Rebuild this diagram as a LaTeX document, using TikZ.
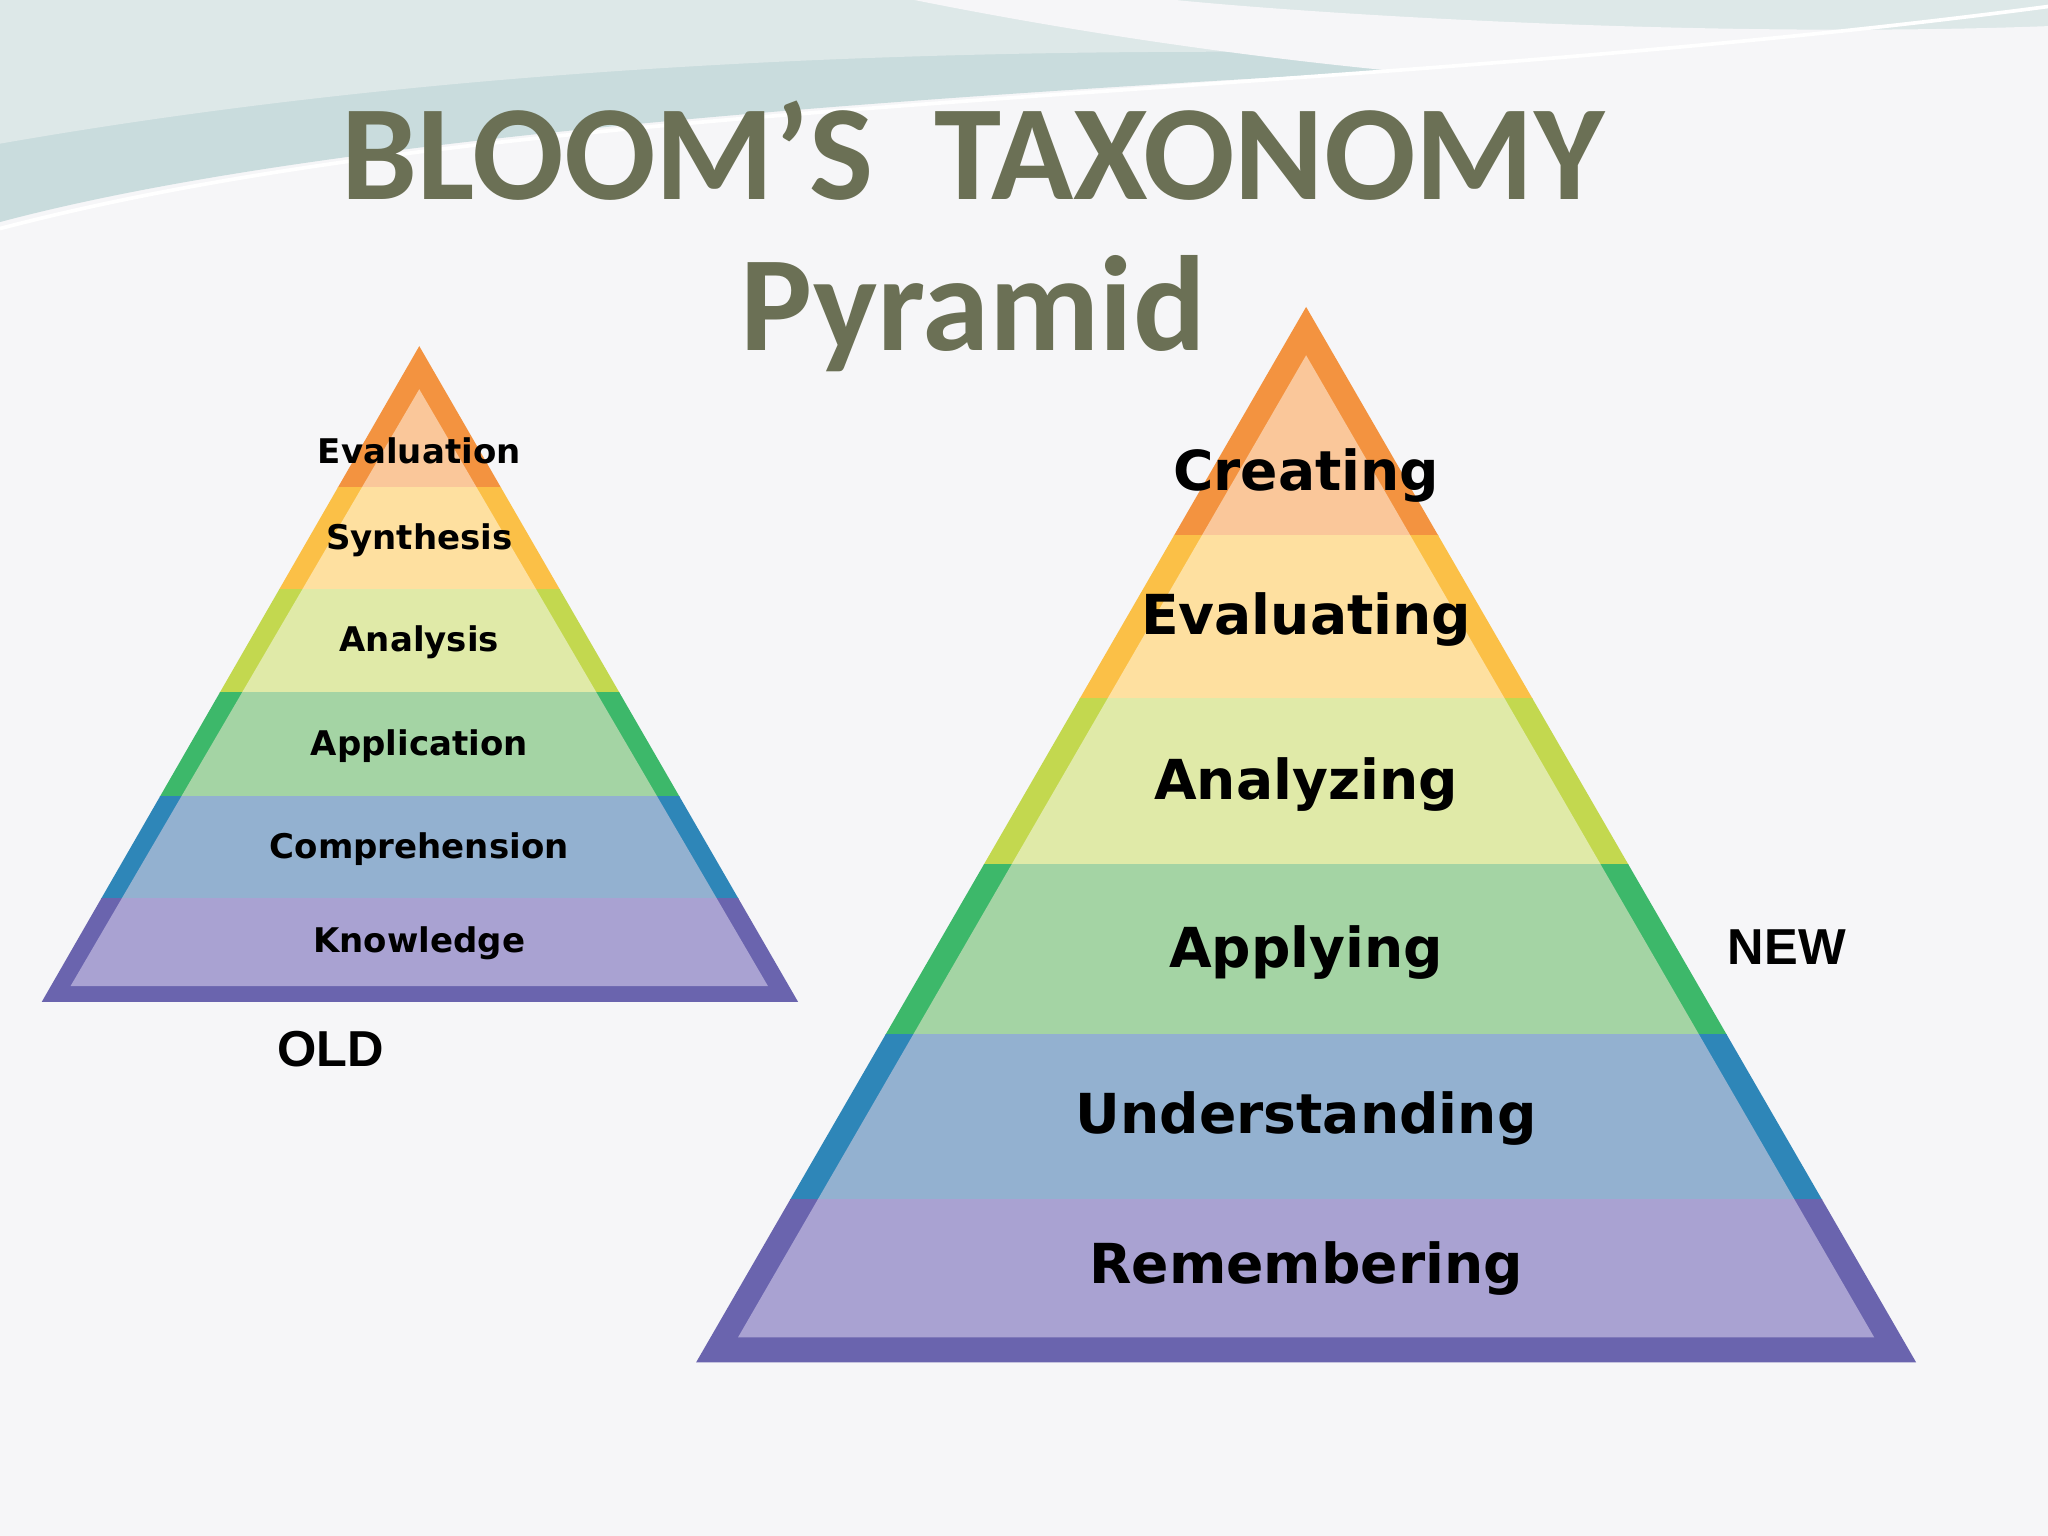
\documentclass[tikz,border=0pt]{standalone}
\usepackage{fontspec}
\setmainfont{Carlito}
\newfontfamily\bandfont{DejaVu Sans}
\newfontfamily\tagfont{Liberation Sans}
\definecolor{titlegray}{HTML}{6B7055}
\definecolor{bgpaper}{HTML}{F6F6F8}
\definecolor{wavea}{HTML}{C9DCDD}
\definecolor{waveb}{HTML}{DDE8E8}
\tikzset{
  title/.style={font=\fontsize{29.5}{34}\selectfont\bfseries, text=titlegray},
  small band/.style={font=\bandfont\bfseries\fontsize{7.4}{8}\selectfont},
  big band/.style={font=\bandfont\bfseries\fontsize{12}{14}\selectfont},
  tag/.style={font=\tagfont\bfseries\fontsize{11}{13}\selectfont},
}
\begin{document}
\begin{tikzpicture}[x=0.01cm,y=-0.01cm]
  \fill[bgpaper] (0,0) rectangle (1568,1176);
  \useasboundingbox (0,0) rectangle (1568,1176);
  % waves at the top
  \fill[wavea] (0,0) -- (0,170) .. controls (300,90) and (900,60) .. (1568,30) -- (1568,0) -- cycle;
  \fill[waveb] (0,0) -- (0,110) .. controls (400,40) and (900,20) .. (1568,60) -- (1568,0) -- cycle;
  \fill[bgpaper] (700,0) .. controls (1000,60) and (1300,80) .. (1568,70) -- (1568,20) .. controls (1300,30) and (1000,10) .. (900,0) -- cycle;
  \draw[white, thick] (0,175) .. controls (400,70) and (1000,80) .. (1568,5);

  \node[title] (head) at (745,115) {BLOOM’S\ \ TAXONOMY};
  \node[title] (sub) at (745,240) {Pyramid};

  % old pyramid
  \foreach \ya/\yb/\dark/\light in {
      265/373/F39340/FAC79A, 373/451/FBC047/FEE0A0, 451/530/C3D84F/E0EAA8,
      530/610/3DB86A/A4D4A4, 610/688/2E86B8/93B1D0, 688/767/6A64AE/A9A2D2}{
    \definecolor{banddark}{HTML}{\dark}
    \definecolor{bandlight}{HTML}{\light}
    \begin{scope}
      \clip (0,\ya) rectangle (1568,\yb);
      \fill[banddark] (321,265) -- (611,767) -- (32,767) -- cycle;
      \fill[bandlight] (321,298) -- (588,755) -- (54,755) -- cycle;
    \end{scope}
  }
  \foreach \name/\txt/\y in {ev/Evaluation/345, sy/Synthesis/414, an/Analysis/492,
      ap/Application/571, co/Comprehension/650, kn/Knowledge/722}{
    \node[small band] (old-\name) at (321,\y) {\txt};
  }
  \node[tag] (old) at (253,803) {OLD};

  % new pyramid
  \foreach \ya/\yb/\dark/\light in {
      235/410/F39340/FAC79A, 410/535/FBC047/FEE0A0, 535/662/C3D84F/E0EAA8,
      662/792/3DB86A/A4D4A4, 792/918/2E86B8/93B1D0, 918/1043/6A64AE/A9A2D2}{
    \definecolor{banddark}{HTML}{\dark}
    \definecolor{bandlight}{HTML}{\light}
    \begin{scope}
      \clip (0,\ya) rectangle (1568,\yb);
      \fill[banddark] (1000,235) -- (1467,1043) -- (533,1043) -- cycle;
      \fill[bandlight] (1000,272) -- (1435,1024) -- (565,1024) -- cycle;
    \end{scope}
  }
  \foreach \name/\txt/\y in {cr/Creating/364, ev/Evaluating/474, an/Analyzing/601,
      ap/Applying/729, un/Understanding/856, re/Remembering/971}{
    \node[big band] (new-\name) at (1000,\y) {\txt};
  }
  \node[tag] (new) at (1368,725) {NEW};
\end{tikzpicture}
\end{document}
